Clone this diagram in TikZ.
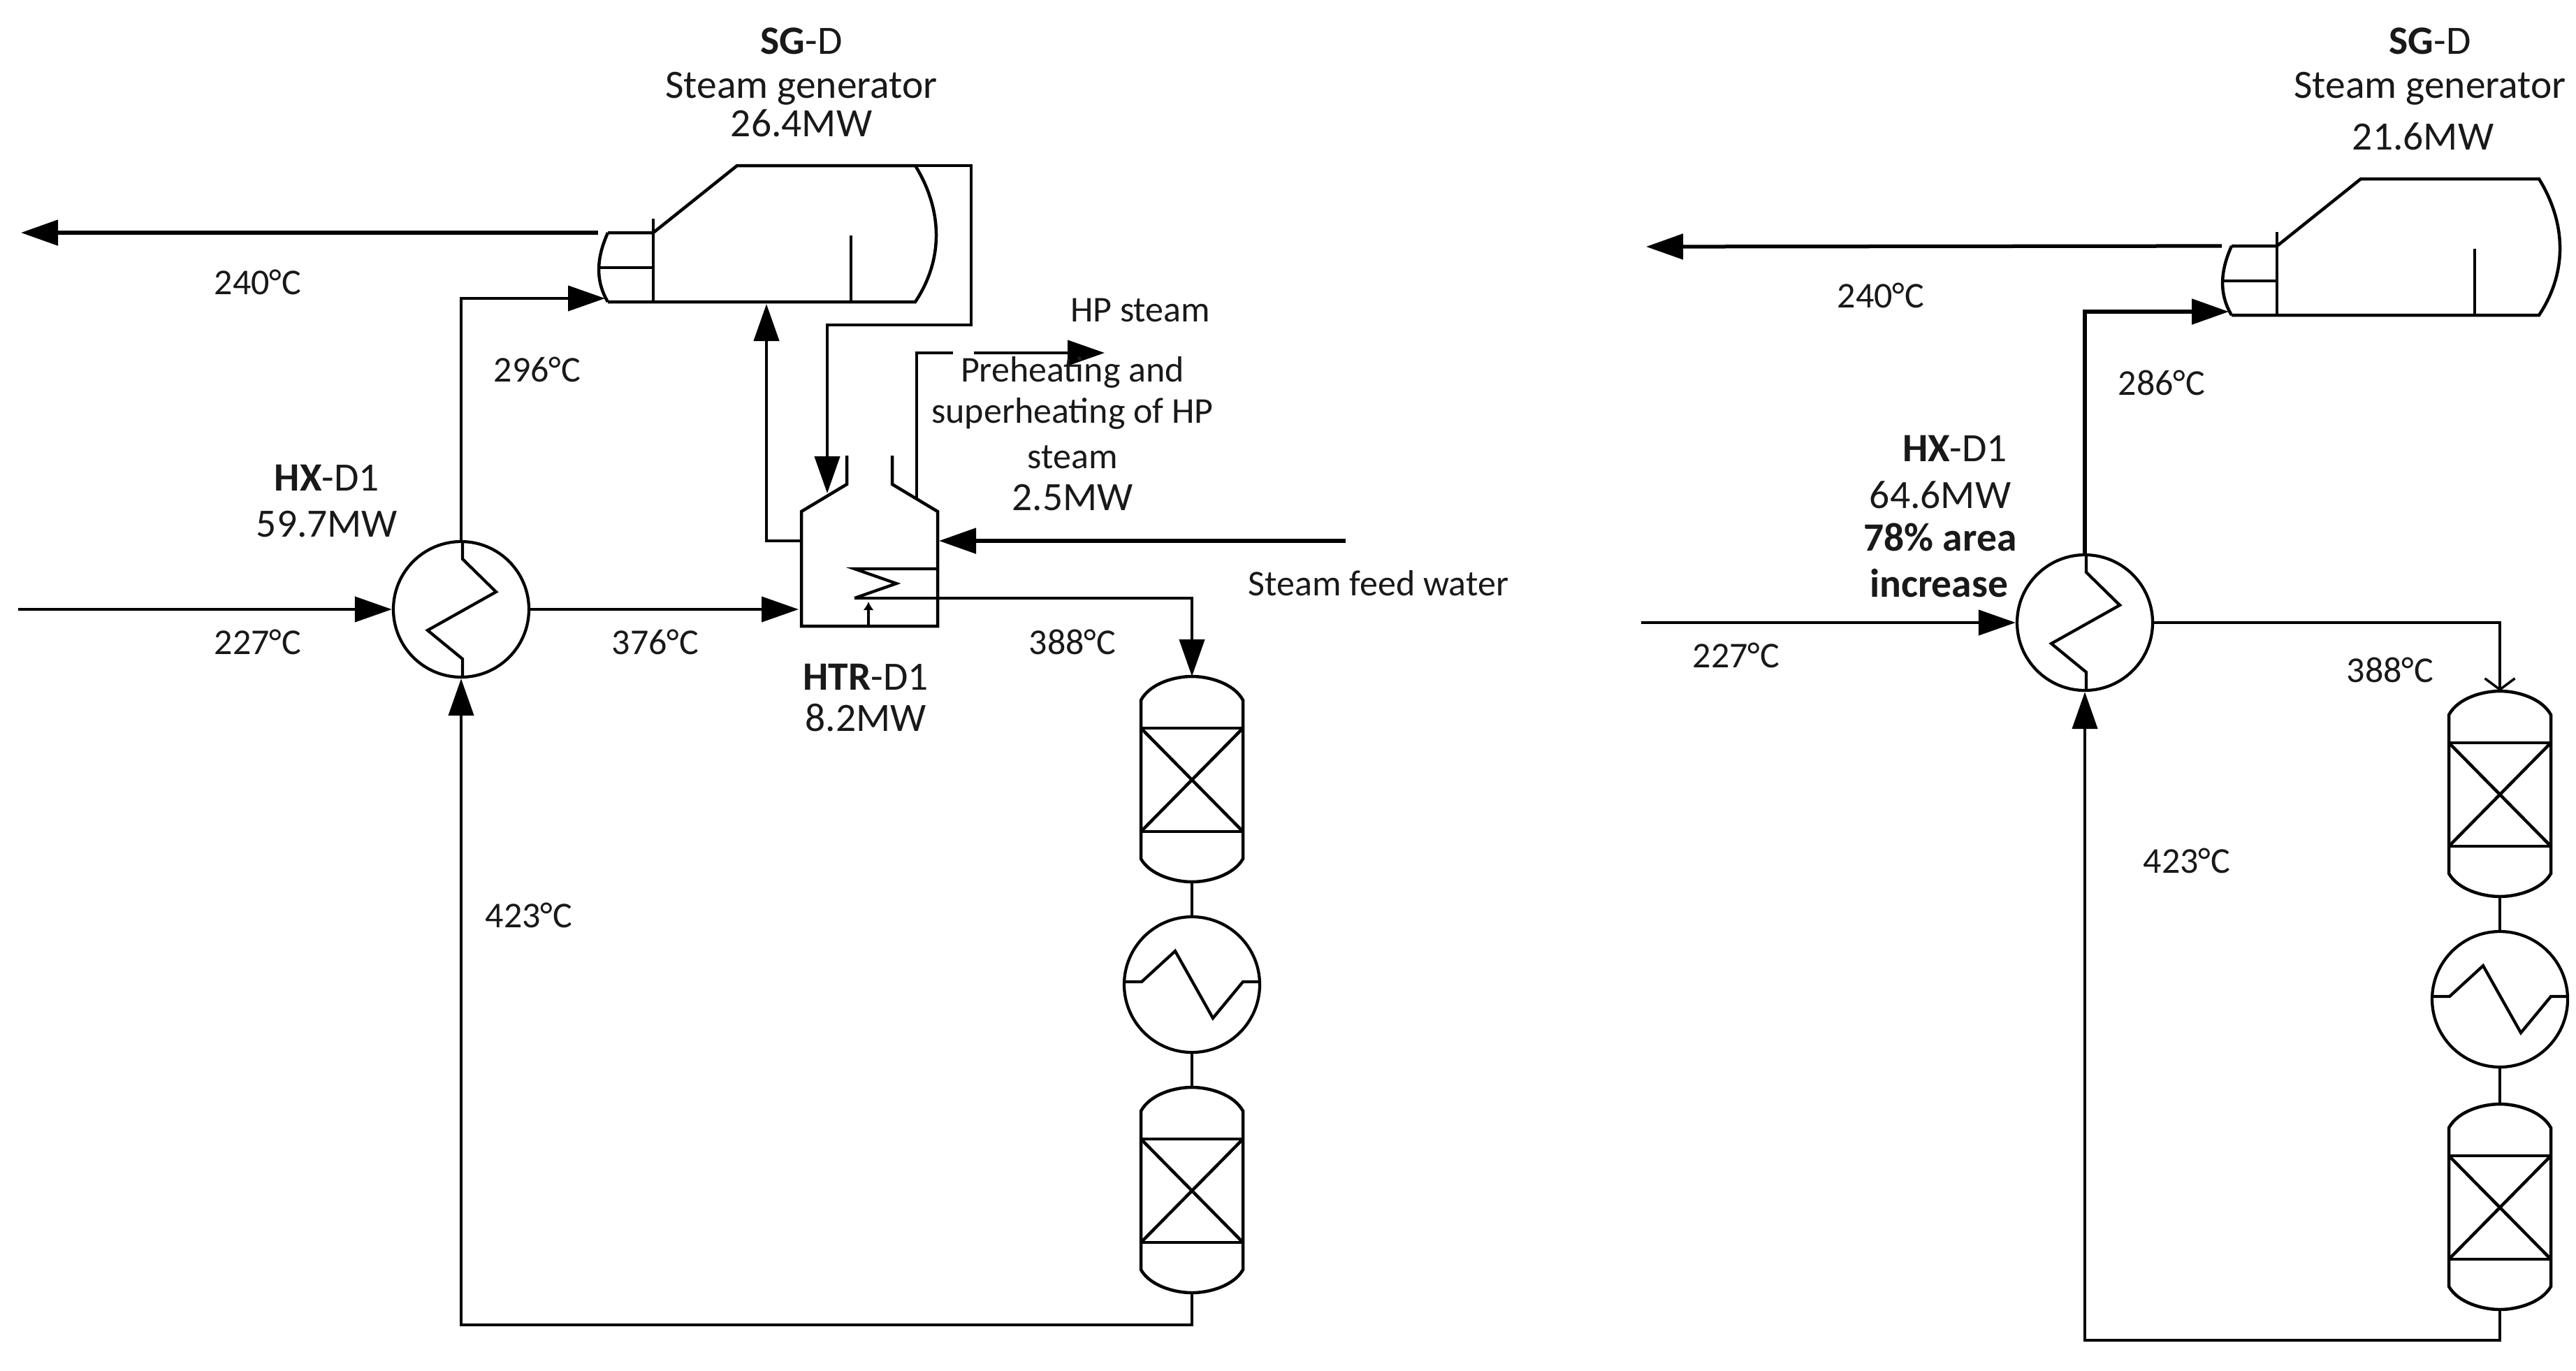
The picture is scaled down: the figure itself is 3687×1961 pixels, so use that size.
\documentclass[tikz,border=0pt]{standalone}
\usepackage{fontspec}
\setmainfont{Carlito}
\usetikzlibrary{arrows.meta}

\tikzset{
  unit/.style={line width=0.9pt,line join=miter},
  flow/.style={line width=0.85pt,-{Triangle[length=10.6pt,width=7.2pt]}},
  heavy/.style={line width=1.05pt,-{Triangle[length=10.6pt,width=7.2pt]}},
  pipe/.style={line width=0.85pt},
  openflow/.style={line width=0.85pt,-{Straight Barb[length=3.2pt,width=8.6pt,line width=0.7pt]}},
  exch/.style={circle,draw,line width=0.85pt,minimum size=38.8pt,inner sep=0pt,fill=white},
  lbl/.style={font=\fontsize{10.4}{12}\selectfont,inner sep=0pt,text=black!90},
  duty/.style={font=\fontsize{11.5}{12}\selectfont,inner sep=0pt,text=black!90},
  sgen/.pic={
    \path[unit,draw] (-65,-99) .. controls (-78,-70) and (-86,-35) .. (-65,0);
    \path[unit,draw] (-65,-99) -- (0,-99) -- (120,-195) -- (375,-195)
      .. controls (415,-130) and (415,-60) .. (375,0) -- (-65,0);
    \path[unit,draw] (0,-119) -- (0,0);
    \path[unit,draw] (-80,-49) -- (0,-49);
    \path[unit,draw] (283,-95) -- (283,0);
    \coordinate (-in) at (-69,-5);
    \coordinate (-out) at (-79,-99);
    \coordinate (-top) at (375,-195);
    \coordinate (-bot) at (162,3);
  },
  bed/.pic={
    \path[unit,draw] (-73,34) .. controls (-60,10) and (-25,0) .. (0,0)
      .. controls (25,0) and (60,10) .. (73,34) -- (73,261)
      .. controls (60,284) and (25,294) .. (0,294)
      .. controls (-25,294) and (-60,284) .. (-73,261) -- cycle;
    \path[unit,draw] (-73,74) rectangle (73,222);
    \path[unit,draw] (-73,74) -- (73,222) (73,74) -- (-73,222);
    \coordinate (-top) at (0,0);
    \coordinate (-bot) at (0,294);
  },
  hxcoil/.pic={
    \path[pipe,draw] (2,-97) -- (2,-72) -- (50,-25) -- (-48,30) -- (2,71) -- (2,97);
  },
  coolcoil/.pic={
    \path[pipe,draw] (-98,-4) -- (-72,-4) -- (-24,-48) -- (30,48) -- (73,-4) -- (98,-4);
  }
}

\begin{document}
\begin{tikzpicture}[x=0.2pt,y=-0.2pt]
  \useasboundingbox (0,0) rectangle (3687,1961);

  \node[exch] (hxA) at (660,872) {};
  \node[exch] (coolA) at (1706,1409) {};
  \path (660,872) pic {hxcoil};
  \path (1706,1409) pic {coolcoil};
  \path (935,432) pic (sgA) {sgen};
  \path (1706,968) pic (bedA) {bed};
  \path (1706,1556) pic (bedB) {bed};

  \path[unit,draw] (1212,652) -- (1212,693) -- (1147,732) -- (1147,896) -- (1342,896)
    -- (1342,732) -- (1277,693) -- (1277,652);
  \path[pipe,draw] (1342,814) -- (1223,814) -- (1283,835) -- (1223,856);
  \coordinate (htrA-in) at (1184,706);
  \coordinate (htrA-side) at (1147,774);
  \coordinate (htrA-top) at (1312,715);
  \coordinate (htrA-feed) at (1344,774);
  \coordinate (htrA-hot) at (1143,872);
  \coordinate (htrA-coil) at (1223,856);
  \coordinate (htrA-base) at (1243,896);
  \coordinate (htrA-rod) at (1243,861);

  \coordinate (feedA) at (26,872);
  \coordinate (stackA) at (30,333);
  \coordinate (turnA) at (1390,465);
  \coordinate (gapA) at (1364,505);
  \coordinate (gapB) at (1394,505);
  \coordinate (hpA) at (1581,505);
  \coordinate (waterA) at (1926,774);
  \coordinate (loopA) at (660,1896);

  \draw[flow] (feedA) -- (hxA.west);
  \draw[flow] (hxA.north) |- (sgA-in);
  \draw[heavy] (sgA-out) -- (stackA);
  \draw[flow] (hxA.east) -- (htrA-hot);
  \draw[flow] (htrA-side) -| (sgA-bot);
  \draw[flow] (sgA-top) -| (turnA) -| (htrA-in);
  \draw[pipe] (htrA-top) |- (gapA);
  \draw[flow] (gapB) -- (hpA);
  \draw[heavy] (waterA) -- (htrA-feed);
  \draw[flow] (htrA-coil) -| (bedA-top);
  \draw[line width=0.85pt,-{Latex[length=2.4pt,width=3pt]}] (htrA-base) -- (htrA-rod);
  \draw[pipe] (bedA-bot) -- (coolA.north);
  \draw[pipe] (coolA.south) -- (bedB-top);
  \draw[flow] (bedB-bot) |- (loopA) -- (hxA.south);

  \node[duty] (sgAname) at (1147,59) {\textbf{SG}-D};
  \node[duty] (sgAtype) at (1147,127) {Steam generator};
  \node[duty] (sgAduty) at (1147,176) {26.4MW};
  \node[lbl] (tA1) at (369,404) {240°C};
  \node[lbl] (tA2) at (769,529) {296°C};
  \node[duty] (hxAname) at (468,684) {\textbf{HX}-D1};
  \node[duty] (hxAduty) at (468,750) {59.7MW};
  \node[lbl] (tA3) at (369,919) {227°C};
  \node[lbl] (tA4) at (938,919) {376°C};
  \node[duty] (htrAname) at (1239,969) {\textbf{HTR}-D1};
  \node[duty] (htrAduty) at (1239,1027) {8.2MW};
  \node[lbl] (tA5) at (1535,919) {388°C};
  \node[lbl] (tA6) at (757,1310) {423°C};
  \node[lbl] (hpAname) at (1632,444) {HP steam};
  \node[lbl] (preA1) at (1535,533) {Preheating and};
  \node[lbl] (preA2) at (1535,592) {superheating of HP};
  \node[lbl] (preA3) at (1535,654) {steam};
  \node[duty] (preA4) at (1535,712) {2.5MW};
  \node[lbl] (waterAname) at (1973,835) {Steam feed water};

  \node[exch] (hxB) at (2984,891) {};
  \node[exch] (coolB) at (3578,1430) {};
  \path (2984,891) pic {hxcoil};
  \path (3578,1430) pic {coolcoil};
  \path (3259,451) pic (sgB) {sgen};
  \path (3578,989) pic (bedC) {bed};
  \path (3578,1580) pic (bedD) {bed};

  \coordinate (feedB) at (2349,891);
  \coordinate (stackB) at (2356,353);
  \coordinate (loopB) at (2984,1918);

  \draw[flow] (feedB) -- (hxB.west);
  \draw[heavy] (hxB.north) |- (sgB-in);
  \draw[heavy] (sgB-out) -- (stackB);
  \draw[openflow] (hxB.east) -| (bedC-top);
  \draw[pipe] (bedC-bot) -- (coolB.north);
  \draw[pipe] (coolB.south) -- (bedD-top);
  \draw[flow] (bedD-bot) |- (loopB) -- (hxB.south);

  \node[duty] (sgBname) at (3478,59) {\textbf{SG}-D};
  \node[duty] (sgBtype) at (3478,127) {Steam generator};
  \node[duty] (sgBduty) at (3468,195) {21.6MW};
  \node[lbl] (tB1) at (2692,423) {240°C};
  \node[lbl] (tB2) at (3094,548) {286°C};
  \node[duty] (hxBname) at (2798,642) {\textbf{HX}-D1};
  \node[duty] (hxBduty) at (2777,708) {64.6MW};
  \node[duty] (hxBnote1) at (2777,769) {\textbf{78\% area}};
  \node[duty] (hxBnote2) at (2775,835) {\textbf{increase}};
  \node[lbl] (tB3) at (2485,938) {227°C};
  \node[lbl] (tB4) at (3421,959) {388°C};
  \node[lbl] (tB5) at (3130,1232) {423°C};
\end{tikzpicture}
\end{document}
